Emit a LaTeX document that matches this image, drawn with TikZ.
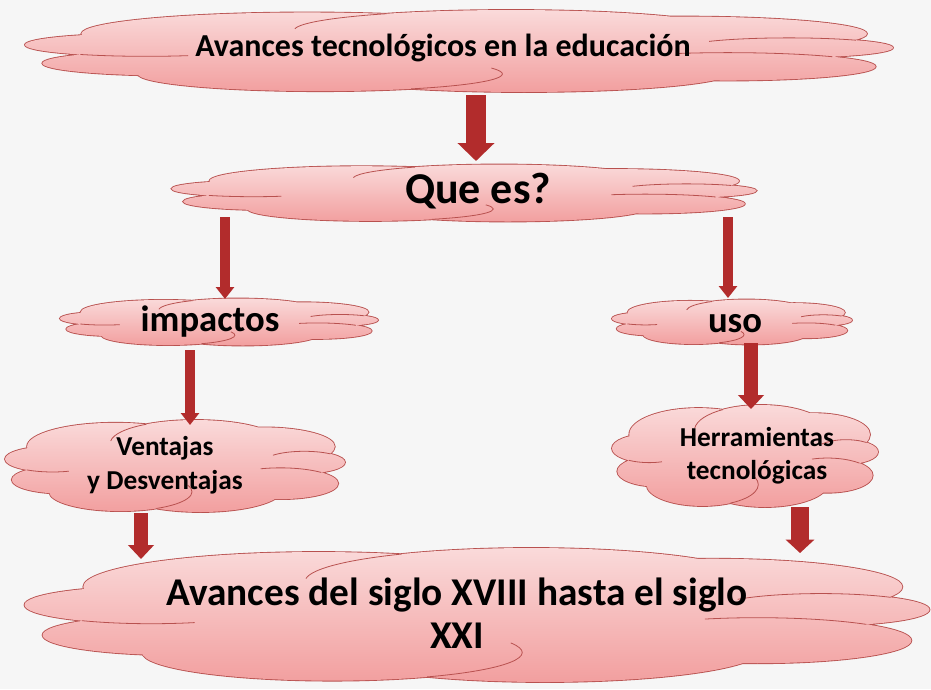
\documentclass[tikz,border=0pt]{standalone}
\usepackage{fontspec}
\setmainfont{Carlito}
\usepackage{tikz}
\usetikzlibrary{arrows.meta}
\usetikzlibrary{positioning}
\definecolor{bgGrey}{HTML}{F6F6F6}
\definecolor{cloudTop}{HTML}{FADADA}
\definecolor{cloudBottom}{HTML}{F29F9F}
\definecolor{cloudLine}{HTML}{B8514F}
\definecolor{arrowRed}{HTML}{B22C2C}
\tikzstyle{textNode} = [text centered, align=center, inner sep=0pt, font=\bfseries]
\tikzstyle{crease} = [draw=cloudLine, line width=0.6pt]
\tikzstyle{arrowThin} = [draw=arrowRed, line width=7.5pt, -{Triangle[width=13.5pt, length=9pt]}]
\tikzstyle{arrowMid} = [draw=arrowRed, line width=10.5pt, -{Triangle[width=19pt, length=10.5pt]}]
\tikzstyle{arrowBig} = [draw=arrowRed, line width=15pt, -{Triangle[width=27pt, length=13.5pt]}]
% puffs of a cloud in a 2x2 box
\newcommand{\cloudPuffs}{(-0.72,0.15) circle[radius=0.28] (-0.66,-0.3) circle[radius=0.3]
  (-0.35,0.42) circle[radius=0.52] (0.12,0.5) circle[radius=0.5] (0.52,0.42) circle[radius=0.42]
  (0.76,0.08) circle[radius=0.24] (0.62,-0.38) circle[radius=0.34] (0.15,-0.52) circle[radius=0.48]
  (-0.32,-0.56) circle[radius=0.42] (0,0) ellipse[x radius=0.75, y radius=0.6]}
% #1 x, #2 y, #3 width, #4 height (pixels)
\newcommand{\drawCloud}[4]{%
  \begin{scope}[shift={(#1,#2)}, xscale=#3/2, yscale=-#4/2]
    \draw[cloudLine, line width=1.3pt] \cloudPuffs;
    \shade[top color=cloudTop, bottom color=cloudBottom] \cloudPuffs;
    \draw[crease] (-0.72,0.15) ++(237:0.28) arc[start angle=237, end angle=290, radius=0.28];
    \draw[crease] (0.12,0.5) ++(125:0.5) arc[start angle=125, end angle=175, radius=0.5];
    \draw[crease] (0.62,-0.38) ++(45:0.34) arc[start angle=45, end angle=110, radius=0.34];
    \draw[crease] (-0.32,-0.56) ++(300:0.42) arc[start angle=300, end angle=380, radius=0.42];
    \draw[crease] (0.76,0.08) ++(50:0.24) arc[start angle=50, end angle=140, radius=0.24];
  \end{scope}}
\begin{document}
\begin{tikzpicture}[x=0.75pt, y=-0.75pt]
\fill[bgGrey] (0,0) rectangle (931,689);
\useasboundingbox (0,0) rectangle (931,689);
% clouds
\drawCloud{459}{51}{868}{82}
\drawCloud{464}{193}{585}{57}
\drawCloud{219}{322}{318}{47}
\drawCloud{732}{322}{240}{45}
\drawCloud{175}{466}{340}{92}
\drawCloud{745}{456}{266}{102}
\drawCloud{477}{615}{905}{134}
% texts
\node (title) [textNode, font=\fontsize{24}{28}\selectfont\bfseries] at (443,48) {Avances tecnológicos en la educación};
\node (quees) [textNode, font=\fontsize{33}{36}\selectfont\bfseries] at (478,191) {Que es?};
\node (impactos) [textNode, font=\fontsize{27.5}{30}\selectfont\bfseries] at (210,322) {impactos};
\node (uso) [textNode, font=\fontsize{27.5}{30}\selectfont\bfseries] at (735,324) {uso};
\node (ventajas) [textNode, font=\fontsize{20.5}{25.5}\selectfont\bfseries] at (165,465) {Ventajas\\y Desventajas};
\node (herramientas) [textNode, font=\fontsize{20.5}{25}\selectfont\bfseries] at (757,456) {Herramientas\\tecnológicas};
\node (siglos) [textNode, font=\fontsize{29.5}{32}\selectfont\bfseries] at (457,613) {Avances del siglo XVIII hasta el siglo\\XXI};
% arrow ends
\coordinate (titleOut) at (476,95);
\coordinate (queesIn) at (476,161);
\coordinate (queesOutL) at (225,217);
\coordinate (impactosIn) at (225,299);
\coordinate (queesOutR) at (728,217);
\coordinate (usoIn) at (728,298);
\coordinate (impactosOut) at (190,350);
\coordinate (ventajasIn) at (190,425);
\coordinate (usoOut) at (751,343);
\coordinate (herramientasIn) at (751,409);
\coordinate (ventajasOut) at (141,513);
\coordinate (siglosInL) at (141,559);
\coordinate (herramientasOut) at (800,507);
\coordinate (siglosInR) at (800,553);
% arrows
\draw [arrowBig] (titleOut) -- (queesIn);
\draw [arrowThin] (queesOutL) -- (impactosIn);
\draw [arrowThin] (queesOutR) -- (usoIn);
\draw [arrowThin] (impactosOut) -- (ventajasIn);
\draw [arrowMid] (usoOut) -- (herramientasIn);
\draw [arrowMid] (ventajasOut) -- (siglosInL);
\draw [arrowMid, line width=13.5pt, -{Triangle[width=21pt, length=10pt]}] (herramientasOut) -- (siglosInR);
\end{tikzpicture}
\end{document}
